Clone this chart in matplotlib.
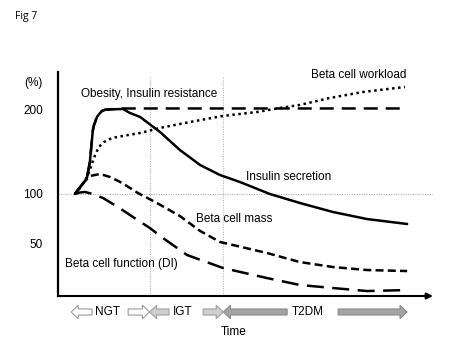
import matplotlib
matplotlib.use("Agg")
import matplotlib.pyplot as plt
from matplotlib.patches import FancyArrow
import matplotlib.transforms as mtransforms

plt.rcParams['font.family'] = ['Liberation Sans', 'DejaVu Sans']

# ---------------- data (schematic, time in arbitrary units 0-100, value in %) ----------------
t_secretion = [4.5, 5.9, 7.2, 7.7, 8.5, 9.1, 9.3, 9.6, 10.1, 10.4, 11.0, 11.7, 12.5, 13.3,
               17.3, 19.2, 21.9, 27.2, 32.5, 37.9, 43.2, 48.5, 56.5, 64.5, 73.3, 82.4, 93.1]
v_secretion = [100, 108.3, 115.5, 119.0, 138.1, 166.7, 176.0, 182.1, 188.0, 191.7, 195.2,
               198.8, 200.2, 200.6, 201.2, 196.4, 191.7, 173.8, 152.4, 134.5, 122.6, 114.3,
               100, 89.3, 78.6, 70.2, 64.3]

t_resistance = [4.5, 5.9, 7.2, 7.7, 8.5, 9.1, 9.3, 9.6, 10.1, 10.4, 11.0, 11.7, 12.5, 13.3,
                17.3, 92.0]
v_resistance = [100, 108.3, 115.5, 119.0, 138.1, 166.7, 176.0, 182.1, 188.0, 191.7, 195.2,
                198.8, 200.2, 200.6, 201.8, 201.8]

t_workload = [4.5, 5.9, 7.2, 8.3, 9.1, 9.9, 10.9, 12.3, 14.4, 18.7, 21.9, 27.2, 35.2, 44.0,
              53.1, 59.2, 64.5, 72.5, 81.3, 92.5]
v_workload = [100, 107.1, 115.5, 126.2, 136.9, 146.4, 156.0, 161.9, 166.7, 170.2, 172.6,
              178.6, 185.7, 192.9, 197.6, 202.4, 206.0, 214.3, 221.4, 227.4]

t_mass = [4.5, 5.6, 6.7, 8.5, 11.2, 13.9, 17.1, 21.3, 25.9, 32.5, 37.9, 43.2, 55.7, 64.5,
          73.3, 82.4, 93.1]
v_mass = [100, 106.0, 113.1, 121.4, 123.8, 120.2, 113.1, 101.2, 90.5, 73.8, 56.0, 42.9,
          29.8, 19.0, 13.1, 9.5, 8.3]

t_function = [4.5, 5.9, 7.2, 9.3, 12.0, 16.0, 20.0, 24.5, 28.0, 34.4, 44.0, 55.7, 64.5,
              73.3, 82.4, 93.1]
v_function = [100, 101.8, 102.4, 100, 95.2, 84.5, 72.6, 59.5, 47.6, 27.4, 11.9, 0, -8.3,
              -11.9, -15.5, -14.3]

ytick_values = [233.3, 200, 100, 40.5]
ytick_labels = ["(%)", "200", "100", "50"]

phase_names = ["NGT", "IGT", "T2DM"]
phase_bounds = [3.5, 24.4, 44.1, 93.1]

# ---------------- figure ----------------
fig = plt.figure(figsize=(4.74, 3.55), dpi=100)
ax = fig.add_axes([58 / 474, 59 / 355, 375 / 474, 224 / 355])
ax.set_xlim(0, 100)
ax.set_ylim(-21.4, 245.2)

for s in ['top', 'right', 'bottom']:
    ax.spines[s].set_visible(False)
ax.spines['left'].set_linewidth(1.6)
ax.set_xticks([])
ax.set_yticks(ytick_values)
ax.set_yticklabels(ytick_labels, fontsize=8.5)
ax.tick_params(axis='y', length=0, pad=11)

# reference lines
ax.axhline(100, color='#b0b0b0', lw=0.8, ls=(0, (1, 1.2)), zorder=1)
for xb in phase_bounds[1:3]:
    ax.axvline(xb, ymax=0.982, color='#b8b8b8', lw=0.8, ls=(0, (1, 1.2)), zorder=1)

# x axis with arrow
ax.annotate('', xy=(1.0, 0), xytext=(0, 0), xycoords='axes fraction',
            textcoords='axes fraction',
            arrowprops=dict(arrowstyle='-|>', lw=1.5, color='black',
                            mutation_scale=9, shrinkA=0, shrinkB=0),
            annotation_clip=False)

lw = 1.8
ax.plot(t_resistance, v_resistance, color='black', lw=lw, ls=(0, (5.6, 3.2)), zorder=3)
ax.plot(t_workload, v_workload, color='black', lw=lw, ls=(0, (1, 1.4)), zorder=3)
ax.plot(t_mass, v_mass, color='black', lw=lw, ls=(0, (3.2, 1.7)), zorder=3)
ax.plot(t_function, v_function, color='black', lw=lw, ls=(0, (6.8, 3.4)), zorder=3)
ax.plot(t_secretion, v_secretion, color='black', lw=lw, zorder=4,
        solid_capstyle='round', solid_joinstyle='round')

fs = 8.5
ax.text(80.3, 241.7, "Beta cell workload", fontsize=fs, ha='center', va='center')
ax.text(24.4, 219.0, "Obesity, Insulin resistance", fontsize=fs, ha='center', va='center')
ax.text(61.5, 120.2, "Insulin secretion", fontsize=fs, ha='center', va='center')
ax.text(46.9, 70.2, "Beta cell mass", fontsize=fs, ha='center', va='center')
ax.text(16.9, 16.7, "Beta cell function (DI)", fontsize=fs, ha='center', va='center')

# phase arrows below axis
trans = mtransforms.blended_transform_factory(ax.transData, ax.transAxes)
y_arr = -0.0714
styles = [dict(fc='white', ec='#9a9a9a'),
          dict(fc='#cfcfcf', ec='#a0a0a0'),
          dict(fc='#a3a3a3', ec='#8c8c8c')]
text_centers = [13.3, 33.3, 66.5]
left_arrow_tails = [9.1, 29.6, 61.1]
right_arrow_tails = [18.7, 38.7, 74.7]
for i, name in enumerate(phase_names):
    st = styles[i]
    x0, x1 = phase_bounds[i], phase_bounds[i + 1]
    lt, rt = left_arrow_tails[i], right_arrow_tails[i]
    for tail, head in [(lt, x0), (rt, x1)]:
        arr = FancyArrow(tail, y_arr, head - tail, 0, width=0.027, head_width=0.06,
                         head_length=1.9, length_includes_head=True, transform=trans,
                         clip_on=False, lw=0.8, **st)
        ax.add_patch(arr)
    ax.text(text_centers[i], y_arr, name, fontsize=fs, ha='center', va='center',
            transform=trans, clip_on=False)

ax.text(46.9, -0.161, "Time", fontsize=fs, ha='center', va='center', transform=trans)

fig.text(15 / 474, 1 - 17 / 355, "Fig 7", fontsize=7.5, ha='left', va='center',
         family=['Open Sans', 'DejaVu Sans'])

fig.savefig("out.png", dpi=100)
